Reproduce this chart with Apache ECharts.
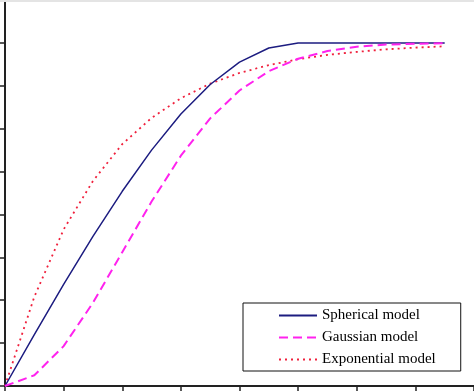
<!DOCTYPE html>
<html>
<head>
<meta charset="utf-8">
<script src="https://cdn.jsdelivr.net/npm/echarts@6/dist/echarts.min.js"></script>
<style>
html,body{margin:0;padding:0;background:#fff;}
#chart{width:474px;height:391px;}
</style>
</head>
<body>
<div id="chart"></div>
<script>
// Lag distances (x) and model values (y)
const lags = [0, 0.5, 1, 1.5, 2, 2.5, 3, 3.5, 4, 4.5, 5, 5.5, 6, 6.5, 7, 7.5];
const spherical = [0, 1.2, 2.37, 3.49, 4.54, 5.5, 6.34, 7.03, 7.55, 7.88, 8, 8, 8, 8, 8, 8];
const gaussian = [0, 0.25, 0.93, 1.94, 3.12, 4.3, 5.37, 6.24, 6.89, 7.34, 7.63, 7.81, 7.91, 7.96, 7.98, 7.99];
const exponential = [0, 2.08, 3.65, 4.78, 5.64, 6.25, 6.71, 7.05, 7.3, 7.48, 7.62, 7.72, 7.79, 7.85, 7.89, 7.92];
const seriesNames = ['Spherical model', 'Gaussian model', 'Exponential model'];

function pairs(ys) { return lags.map((x, i) => [x, ys[i]]); }

const chart = echarts.init(document.getElementById('chart'));
chart.setOption({
  animation: false,
  backgroundColor: '#fff',
  grid: { left: 5, right: 0, top: 0, bottom: 5, containLabel: false },
  xAxis: {
    type: 'value', min: 0, max: 8, interval: 1,
    axisLine: { show: true, onZero: false, lineStyle: { color: '#222', width: 2 } },
    axisTick: { show: true, inside: false, length: 5, lineStyle: { color: '#222', width: 1.5 } },
    axisLabel: { show: false },
    splitLine: { show: false }
  },
  yAxis: {
    type: 'value', min: 0, max: 9, interval: 1,
    axisLine: { show: true, onZero: false, lineStyle: { color: '#222', width: 2 } },
    axisTick: { show: true, inside: false, length: 5, lineStyle: { color: '#222', width: 1.5 } },
    axisLabel: { show: false },
    splitLine: { show: false }
  },
  legend: {
    orient: 'vertical',
    left: 243, top: 303,
    padding: [5, 25, 4, 35],
    itemWidth: 38, itemHeight: 14, itemGap: 7,
    backgroundColor: '#fff',
    borderColor: '#111', borderWidth: 1, borderRadius: 0,
    itemStyle: { opacity: 0 },
    textStyle: { fontFamily: 'Liberation Serif', fontSize: 15, color: '#000' },
    data: seriesNames
  },
  graphic: [{
    type: 'rect', left: 0, top: 0, shape: { width: 474, height: 2 },
    style: { fill: '#e4e4e4' }, z: 100
  }],
  series: [
    {
      name: seriesNames[0], type: 'line', data: pairs(spherical),
      symbol: 'none', z: 3,
      lineStyle: { color: '#1c1c80', width: 1.5, type: 'solid' },
      itemStyle: { color: '#1c1c80' }
    },
    {
      name: seriesNames[1], type: 'line', data: pairs(gaussian),
      symbol: 'none', z: 4,
      lineStyle: { color: '#ff22ee', width: 2, type: [9, 5] },
      itemStyle: { color: '#ff22ee' }
    },
    {
      name: seriesNames[2], type: 'line', data: pairs(exponential),
      symbol: 'none', z: 2,
      lineStyle: { color: '#f0203c', width: 1.8, type: [2, 4] },
      itemStyle: { color: '#f0203c' }
    }
  ]
});
</script>
</body>
</html>
